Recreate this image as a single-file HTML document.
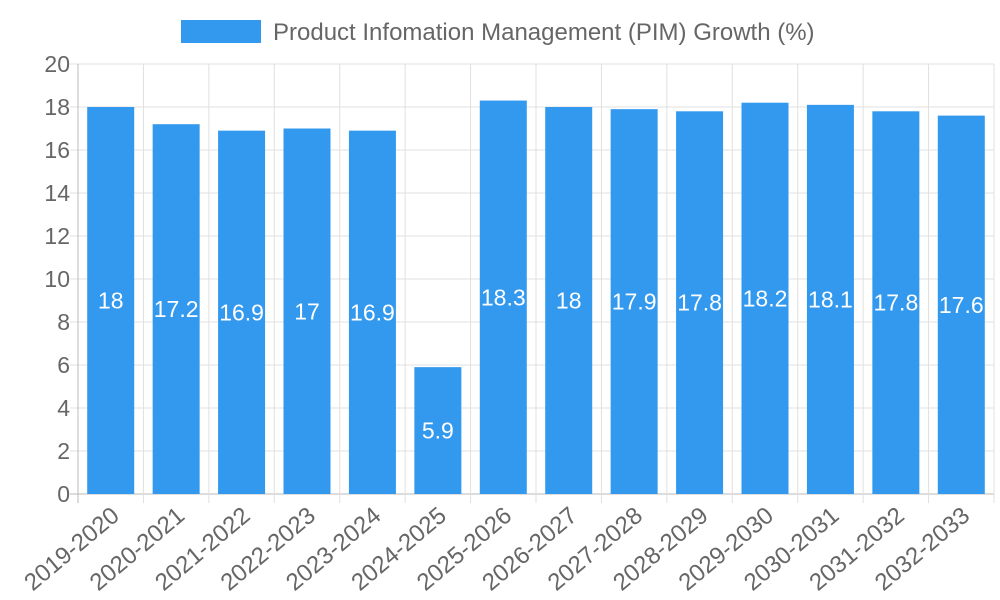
<!DOCTYPE html>
<html><head><meta charset="utf-8"><style>
body{margin:0;background:#fff;}
svg{display:block;font-family:"Liberation Sans",sans-serif;}
</style></head><body>
<svg id="chart" width="1000" height="600"></svg>
<script>
const categories=["2019-2020","2020-2021","2021-2022","2022-2023","2023-2024","2024-2025","2025-2026","2026-2027","2027-2028","2028-2029","2029-2030","2030-2031","2031-2032","2032-2033"];
const values=[18,17.2,16.9,17,16.9,5.9,18.3,18,17.9,17.8,18.2,18.1,17.8,17.6];
const yTicks=[0,2,4,6,8,10,12,14,16,18,20];
const seriesName="Product Infomation Management (PIM) Growth (%)";

const NS="http://www.w3.org/2000/svg";
const svg=document.getElementById('chart');
const L=78,R=994,T=64,B=494,yMax=20;
const bw=(R-L)/categories.length;
const y=v=>B-(v/yMax)*(B-T);
const x=i=>L+bw*i;
function mk(tag,attrs,parent){const e=document.createElementNS(NS,tag);for(const k in attrs)e.setAttribute(k,attrs[k]);(parent||svg).appendChild(e);return e;}

// legend
const lg=mk('g',{});


const lb=mk('rect',{x:181,y:20,width:80,height:23,fill:'#3399ee'},lg);


const lt=mk('text',{x:273,y:40,'font-size':24,fill:'#666'},lg);
lt.textContent=seriesName;



// grid
const grid=mk('g',{});


yTicks.forEach(t=>{
  mk('line',{x1:L-8,x2:R,y1:y(t),y2:y(t),stroke:t===0?'#bbb':'#e0e0e0','stroke-width':1},grid);
  const tx=mk('text',{x:L-8,y:y(t)+8,'font-size':23,fill:'#666','text-anchor':'end'});
  tx.textContent=t;
  
  
});
for(let i=0;i<=categories.length;i++){
  mk('line',{x1:x(i),x2:x(i),y1:T,y2:B+9,stroke:i===0?'#bbb':'#e0e0e0','stroke-width':1},grid);
}
// bars
categories.forEach((c,i)=>{
  const v=values[i];
  const cx=x(i)+bw/2;
  const r=mk('rect',{x:cx-23.5,y:y(v),width:47,height:B-y(v),fill:'#3399ee'});
  
  
  const t=mk('text',{x:cx,y:(y(v)+B)/2+8,'font-size':23,fill:'#fff','text-anchor':'middle'});
  t.textContent=v;
  
  
  const xl=mk('text',{x:0,y:0,'font-size':24,fill:'#666','text-anchor':'end',transform:`translate(${cx+10},${B+24}) rotate(-40)`});
  xl.textContent=c;
  
  
});
</script>
</body></html>
